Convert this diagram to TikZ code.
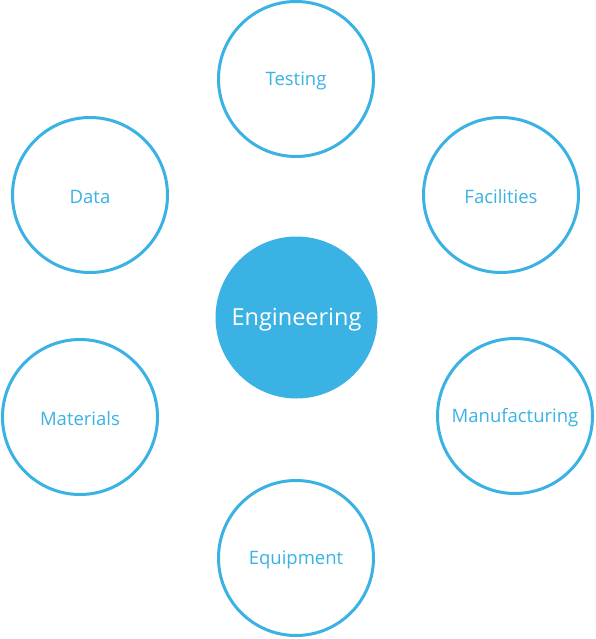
\documentclass[tikz,border=0pt]{standalone}
\usepackage{fontspec}
\setmainfont{Open Sans}
\definecolor{eblue}{HTML}{3AB2E3}
\newcommand{\dn}[1]{\raisebox{-2pt}[\height][\depth]{#1}}
\begin{document}
\begin{tikzpicture}[x=1pt,y=-1pt,
  ring/.style={circle,draw=eblue,line width=3pt,minimum size=155pt,inner sep=0pt,text=eblue,font=\fontsize{18.5}{20}\selectfont},
  hub/.style={circle,fill=eblue,minimum size=162pt,inner sep=0pt,text=white,font=\fontsize{23.5}{26}\selectfont}]
\useasboundingbox (0,0) rectangle (595,639);
\node[hub] (eng) at (296.5,317.5) {\dn{Engineering}};
\node[ring] (test) at (296,79) {\dn{Testing}};
\node[ring] (data) at (90,195) {\dn{Data}};
\node[ring] (fac) at (501,195) {\dn{Facilities}};
\node[ring] (mat) at (80,417) {\dn{Materials}};
\node[ring] (man) at (515,416) {\dn{Manufacturing}};
\node[ring] (equ) at (296,558) {\dn{Equipment}};
\end{tikzpicture}
\end{document}
